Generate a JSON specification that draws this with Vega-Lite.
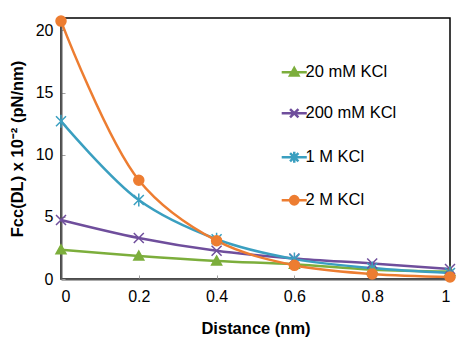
{
  "$schema": "https://vega.github.io/schema/vega-lite/v6.json",
  "autosize": "none",
  "width": 389,
  "height": 261,
  "padding": {"left": 61, "top": 18, "right": 24, "bottom": 63},
  "background": "white",
  "config": {
    "font": "Liberation Sans",
    "view": {"stroke": "#000000", "strokeWidth": 1.5},
    "axis": {"grid": false, "domainColor": "#595959", "domainWidth": 2, "tickColor": "#a0a0a0", "tickSize": -4, "tickWidth": 1, "labelFont": "Liberation Sans", "labelFontSize": 16, "labelColor": "#000000", "titleFont": "Liberation Sans", "titleFontSize": 16.5, "titleFontWeight": "bold", "titleColor": "#000000"}
  },
  "data": {"values": [
    {"d": 0, "f": 2.35, "s": "20 mM KCl"},
    {"d": 0.2, "f": 1.85, "s": "20 mM KCl"},
    {"d": 0.4, "f": 1.45, "s": "20 mM KCl"},
    {"d": 0.6, "f": 1.18, "s": "20 mM KCl"},
    {"d": 0.8, "f": 0.75, "s": "20 mM KCl"},
    {"d": 1, "f": 0.6, "s": "20 mM KCl"},
    {"d": 0, "f": 4.75, "s": "200 mM KCl"},
    {"d": 0.2, "f": 3.3, "s": "200 mM KCl"},
    {"d": 0.4, "f": 2.27, "s": "200 mM KCl"},
    {"d": 0.6, "f": 1.65, "s": "200 mM KCl"},
    {"d": 0.8, "f": 1.25, "s": "200 mM KCl"},
    {"d": 1, "f": 0.8, "s": "200 mM KCl"},
    {"d": 0, "f": 12.7, "s": "1 M KCl"},
    {"d": 0.2, "f": 6.35, "s": "1 M KCl"},
    {"d": 0.4, "f": 3.2, "s": "1 M KCl"},
    {"d": 0.6, "f": 1.6, "s": "1 M KCl"},
    {"d": 0.8, "f": 0.88, "s": "1 M KCl"},
    {"d": 1, "f": 0.48, "s": "1 M KCl"},
    {"d": 0, "f": 20.75, "s": "2 M KCl"},
    {"d": 0.2, "f": 7.95, "s": "2 M KCl"},
    {"d": 0.4, "f": 3.08, "s": "2 M KCl"},
    {"d": 0.6, "f": 1.1, "s": "2 M KCl"},
    {"d": 0.8, "f": 0.4, "s": "2 M KCl"},
    {"d": 1, "f": 0.16, "s": "2 M KCl"}
  ]},
  "encoding": {
    "x": {"field": "d", "type": "quantitative", "scale": {"domain": [0, 1], "nice": false}, "axis": {"values": [0, 0.2, 0.4, 0.6, 0.8, 1], "format": "~g", "title": "Distance (nm)", "labelPadding": 13, "titlePadding": 16}},
    "y": {"field": "f", "type": "quantitative", "scale": {"domain": [0, 21], "nice": false}, "axis": {"values": [0, 5, 10, 15, 20], "title": "Fcc(DL) x 10⁻² (pN/nm)", "labelPadding": 12, "titlePadding": 10}}
  },
  "layer": [
    {"mark": {"type": "line", "interpolate": "catmull-rom", "strokeWidth": 2.5},
     "encoding": {
       "color": {"field": "s", "type": "nominal", "scale": {"domain": ["20 mM KCl", "200 mM KCl", "1 M KCl", "2 M KCl"], "range": ["#7cae3c", "#6f4e9c", "#3a9fc0", "#ed7d31"]}, "legend": null}
     }},
    {"mark": {"type": "point", "filled": true, "opacity": 1, "strokeWidth": 1.5},
     "encoding": {
       "color": {"field": "s", "type": "nominal", "scale": {"domain": ["20 mM KCl", "200 mM KCl", "1 M KCl", "2 M KCl"], "range": ["#7cae3c", "#6f4e9c", "#3a9fc0", "#ed7d31"]}, "legend": null},
       "stroke": {"field": "s", "type": "nominal", "scale": {"domain": ["20 mM KCl", "200 mM KCl", "1 M KCl", "2 M KCl"], "range": ["#7cae3c", "#6f4e9c", "#3a9fc0", "#ed7d31"]}, "legend": null},
       "shape": {"field": "s", "type": "nominal", "scale": {"domain": ["20 mM KCl", "200 mM KCl", "1 M KCl", "2 M KCl"], "range": ["M0,-1L1,0.8H-1Z", "M-1,-1L1,1M-1,1L1,-1", "M-1,-1L1,1M-1,1L1,-1M0,-1.3V1.3", "circle"]}, "legend": null},
       "size": {"value": 100}
     }},
    {"mark": {"type": "point", "filled": true, "opacity": 0, "strokeWidth": 2.5},
     "encoding": {
       "color": {"field": "s", "type": "nominal", "scale": {"domain": ["20 mM KCl", "200 mM KCl", "1 M KCl", "2 M KCl"], "range": ["#7cae3c", "#6f4e9c", "#3a9fc0", "#ed7d31"]},
         "legend": {"title": null, "orient": "none", "legendX": 225, "legendY": 46, "symbolSize": 70, "symbolOpacity": 1, "symbolStrokeWidth": 2.5, "labelFont": "Liberation Sans", "labelFontSize": 16.5, "labelColor": "#000000", "labelOffset": 3, "rowPadding": 23}},
       "stroke": {"field": "s", "type": "nominal", "scale": {"domain": ["20 mM KCl", "200 mM KCl", "1 M KCl", "2 M KCl"], "range": ["#7cae3c", "#6f4e9c", "#3a9fc0", "#ed7d31"]},
         "legend": {"title": null, "orient": "none", "legendX": 225, "legendY": 46, "symbolSize": 70, "symbolOpacity": 1, "symbolStrokeWidth": 2.5, "labelFont": "Liberation Sans", "labelFontSize": 16.5, "labelColor": "#000000", "labelOffset": 3, "rowPadding": 23}},
       "shape": {"field": "s", "type": "nominal", "scale": {"domain": ["20 mM KCl", "200 mM KCl", "1 M KCl", "2 M KCl"], "range": ["M-3,0H3M0,-1L1,0.8H-1Z", "M-3,0H3M-1,-1L1,1M-1,1L1,-1", "M-3,0H3M-1,-1L1,1M-1,1L1,-1M0,-1.3V1.3", "M-3,0H3M1,0A1,1,0,1,1,-1,0A1,1,0,1,1,1,0Z"]},
         "legend": {"title": null, "orient": "none", "legendX": 225, "legendY": 46, "symbolSize": 70, "symbolOpacity": 1, "symbolStrokeWidth": 2.5, "labelFont": "Liberation Sans", "labelFontSize": 16.5, "labelColor": "#000000", "labelOffset": 3, "rowPadding": 23}}
     }}
  ],
  "resolve": {"scale": {"shape": "independent", "color": "independent", "stroke": "independent"}}
}
